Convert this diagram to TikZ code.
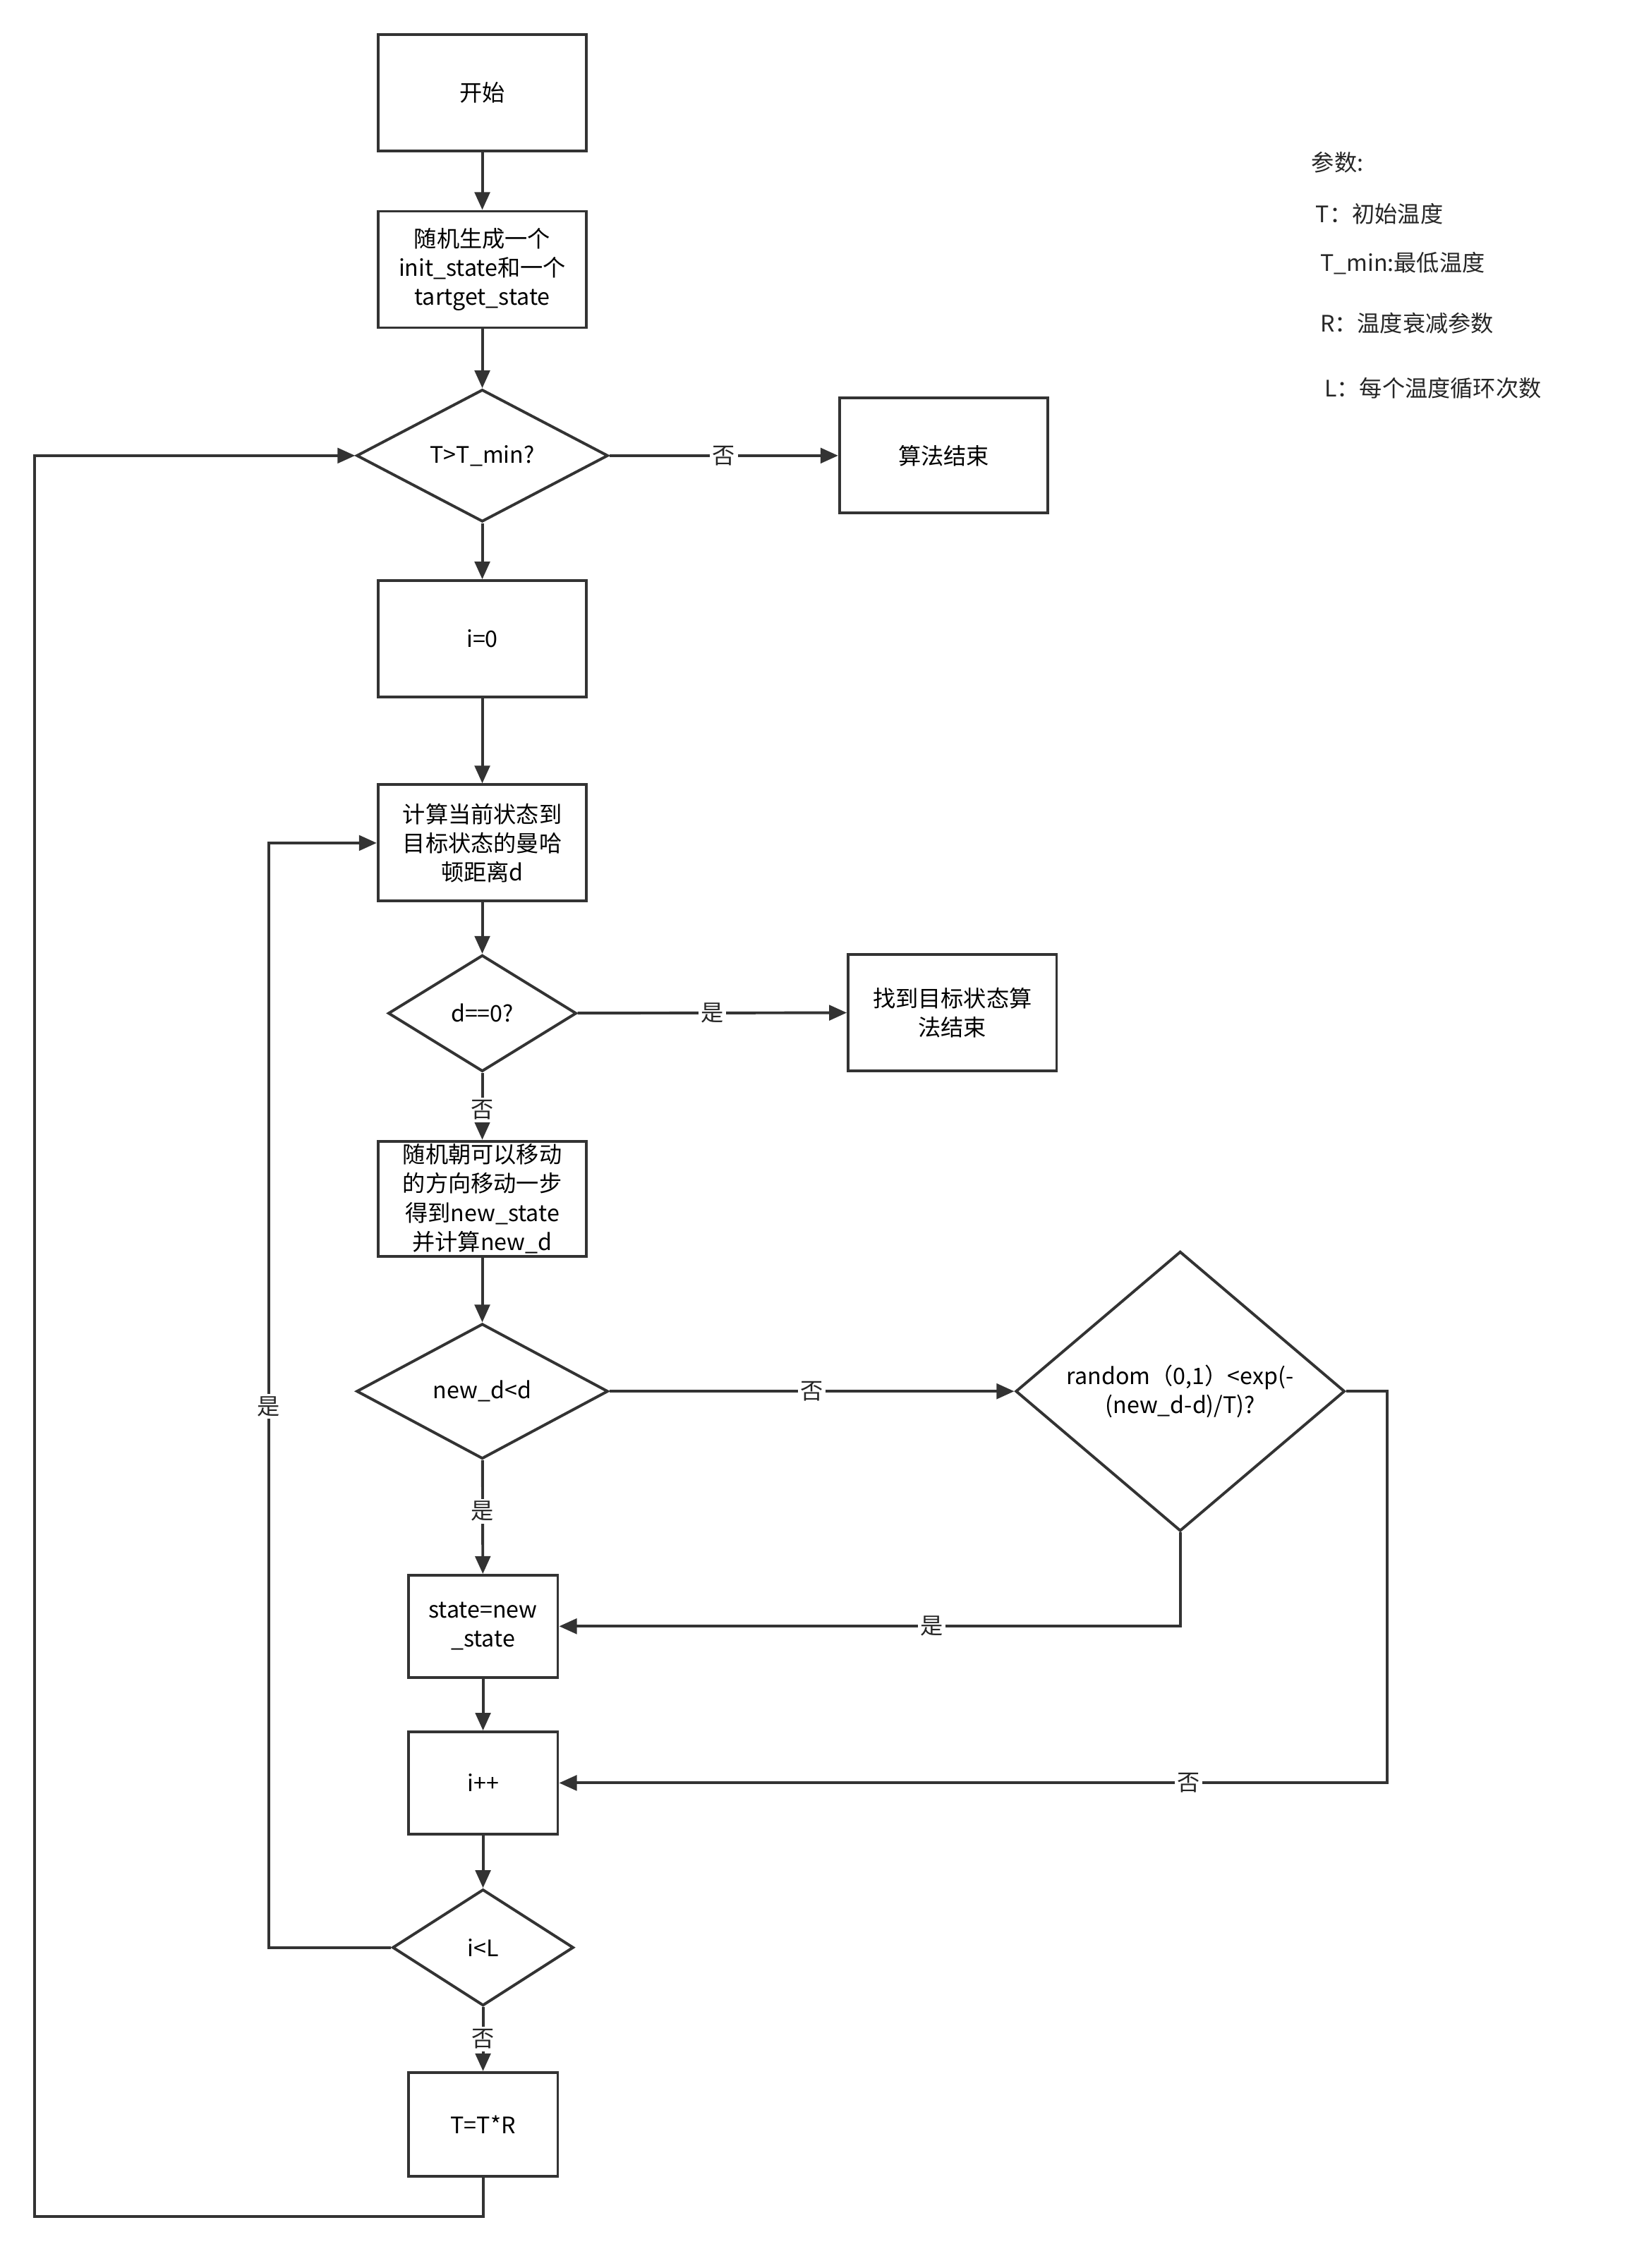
\documentclass[tikz,border=0pt]{standalone}
\usepackage{fontspec}
\setmainfont{Noto Sans CJK SC}
\usetikzlibrary{shapes.geometric,arrows.meta}
\begin{document}
\begin{tikzpicture}[x=0.02cm,y=-0.02cm,
 font=\fontsize{9}{11.5}\selectfont,
 ln/.style={line width=1.1pt,draw=black!80},
 box/.style={ln,rectangle,inner sep=1pt,align=center},
 dia/.style={ln,diamond,inner sep=0pt,align=center},
 ar/.style={ln,-{Triangle[length=7pt,width=6pt]}},
 lab/.style={fill=white,inner sep=1pt,text=black!85},
 txt/.style={anchor=west,inner sep=0pt,text=black!85}]
\path[use as bounding box] (0,0) rectangle (1135,1578);
\node[box,minimum width=2.9cm,minimum height=1.62cm] (start) at (335.5,64.5) {开始};
\node[box,minimum width=2.9cm,minimum height=1.62cm] (init) at (335.5,187.5) {随机生成一个\\init\_state和一个\\tartget\_state};
\node[dia,minimum width=3.5cm,minimum height=1.84cm] (tmin) at (335.5,317) {T>T\_min?};
\node[box,minimum width=2.9cm,minimum height=1.6cm] (end1) at (656.5,317) {算法结束};
\node[box,minimum width=2.9cm,minimum height=1.62cm] (i0) at (335.5,444.5) {i=0};
\node[box,minimum width=2.9cm,minimum height=1.62cm] (calc) at (335.5,586.5) {计算当前状态到\\目标状态的曼哈\\顿距离d};
\node[dia,minimum width=2.62cm,minimum height=1.62cm] (d0) at (335.5,705) {d==0?};
\node[box,minimum width=2.9cm,minimum height=1.62cm] (found) at (662.5,704.5) {找到目标状态算\\法结束};
\node[box,minimum width=2.9cm,minimum height=1.6cm] (move) at (335.5,834) {随机朝可以移动\\的方向移动一步\\得到new\_state\\并计算new\_d};
\node[dia,minimum width=3.5cm,minimum height=1.88cm] (nd) at (335.5,968) {new\_d<d};
\node[dia,minimum width=4.58cm,minimum height=2.92cm] (rnd) at (821,968) {random（0,1）<exp(-\\(new\_d-d)/T)?};
\node[box,minimum width=2.08cm,minimum height=1.42cm] (st) at (336,1131.5) {state=new\\\_state};
\node[box,minimum width=2.08cm,minimum height=1.42cm] (inc) at (336,1240.5) {i++};
\node[dia,minimum width=2.52cm,minimum height=1.62cm] (il) at (336,1355) {i<L};
\node[box,minimum width=2.08cm,minimum height=1.44cm] (tr) at (336,1478) {T=T*R};
\draw[ar] (start) -- (init);
\draw[ar] (init) -- (tmin);
\draw[ar] (tmin) -- node[lab]{否} (end1);
\draw[ar] (tmin) -- (i0);
\draw[ar] (i0) -- (calc);
\draw[ar] (calc) -- (d0);
\draw[ar] (d0) -- node[lab]{是} (found);
\draw[ar] (d0) -- node[lab,pos=0.55]{否} (move);
\draw[ar] (move) -- (nd);
\draw[ar] (nd) -- node[lab]{否} (rnd);
\draw[ar] (nd) -- node[lab,pos=0.45]{是} (st);
\draw[ar] (rnd.south) |- node[lab,pos=0.70]{是} (st.east);
\draw[ar] (rnd.east) -- (965,968) |- node[lab,pos=0.62]{否} (inc.east);
\draw[ar] (st) -- (inc);
\draw[ar] (inc) -- (il);
\draw[ar] (il) -- node[lab]{否} (tr);
\draw[ar] (il.west) -- (187,1355) -- node[lab,pos=0.49]{是} (187,586.5) -- (calc.west);
\draw[ar] (tr.south) -- (336,1542) -- (24,1542) -- (24,317) -- (tmin.west);
\node[txt] (p0) at (912,113) {参数:};
\node[txt] (p1) at (915,149) {T：初始温度};
\node[txt] (p2) at (918,183) {T\_min:最低温度};
\node[txt] (p3) at (918,225) {R：温度衰减参数};
\node[txt] (p4) at (921,270) {L：每个温度循环次数};
\end{tikzpicture}
\end{document}
